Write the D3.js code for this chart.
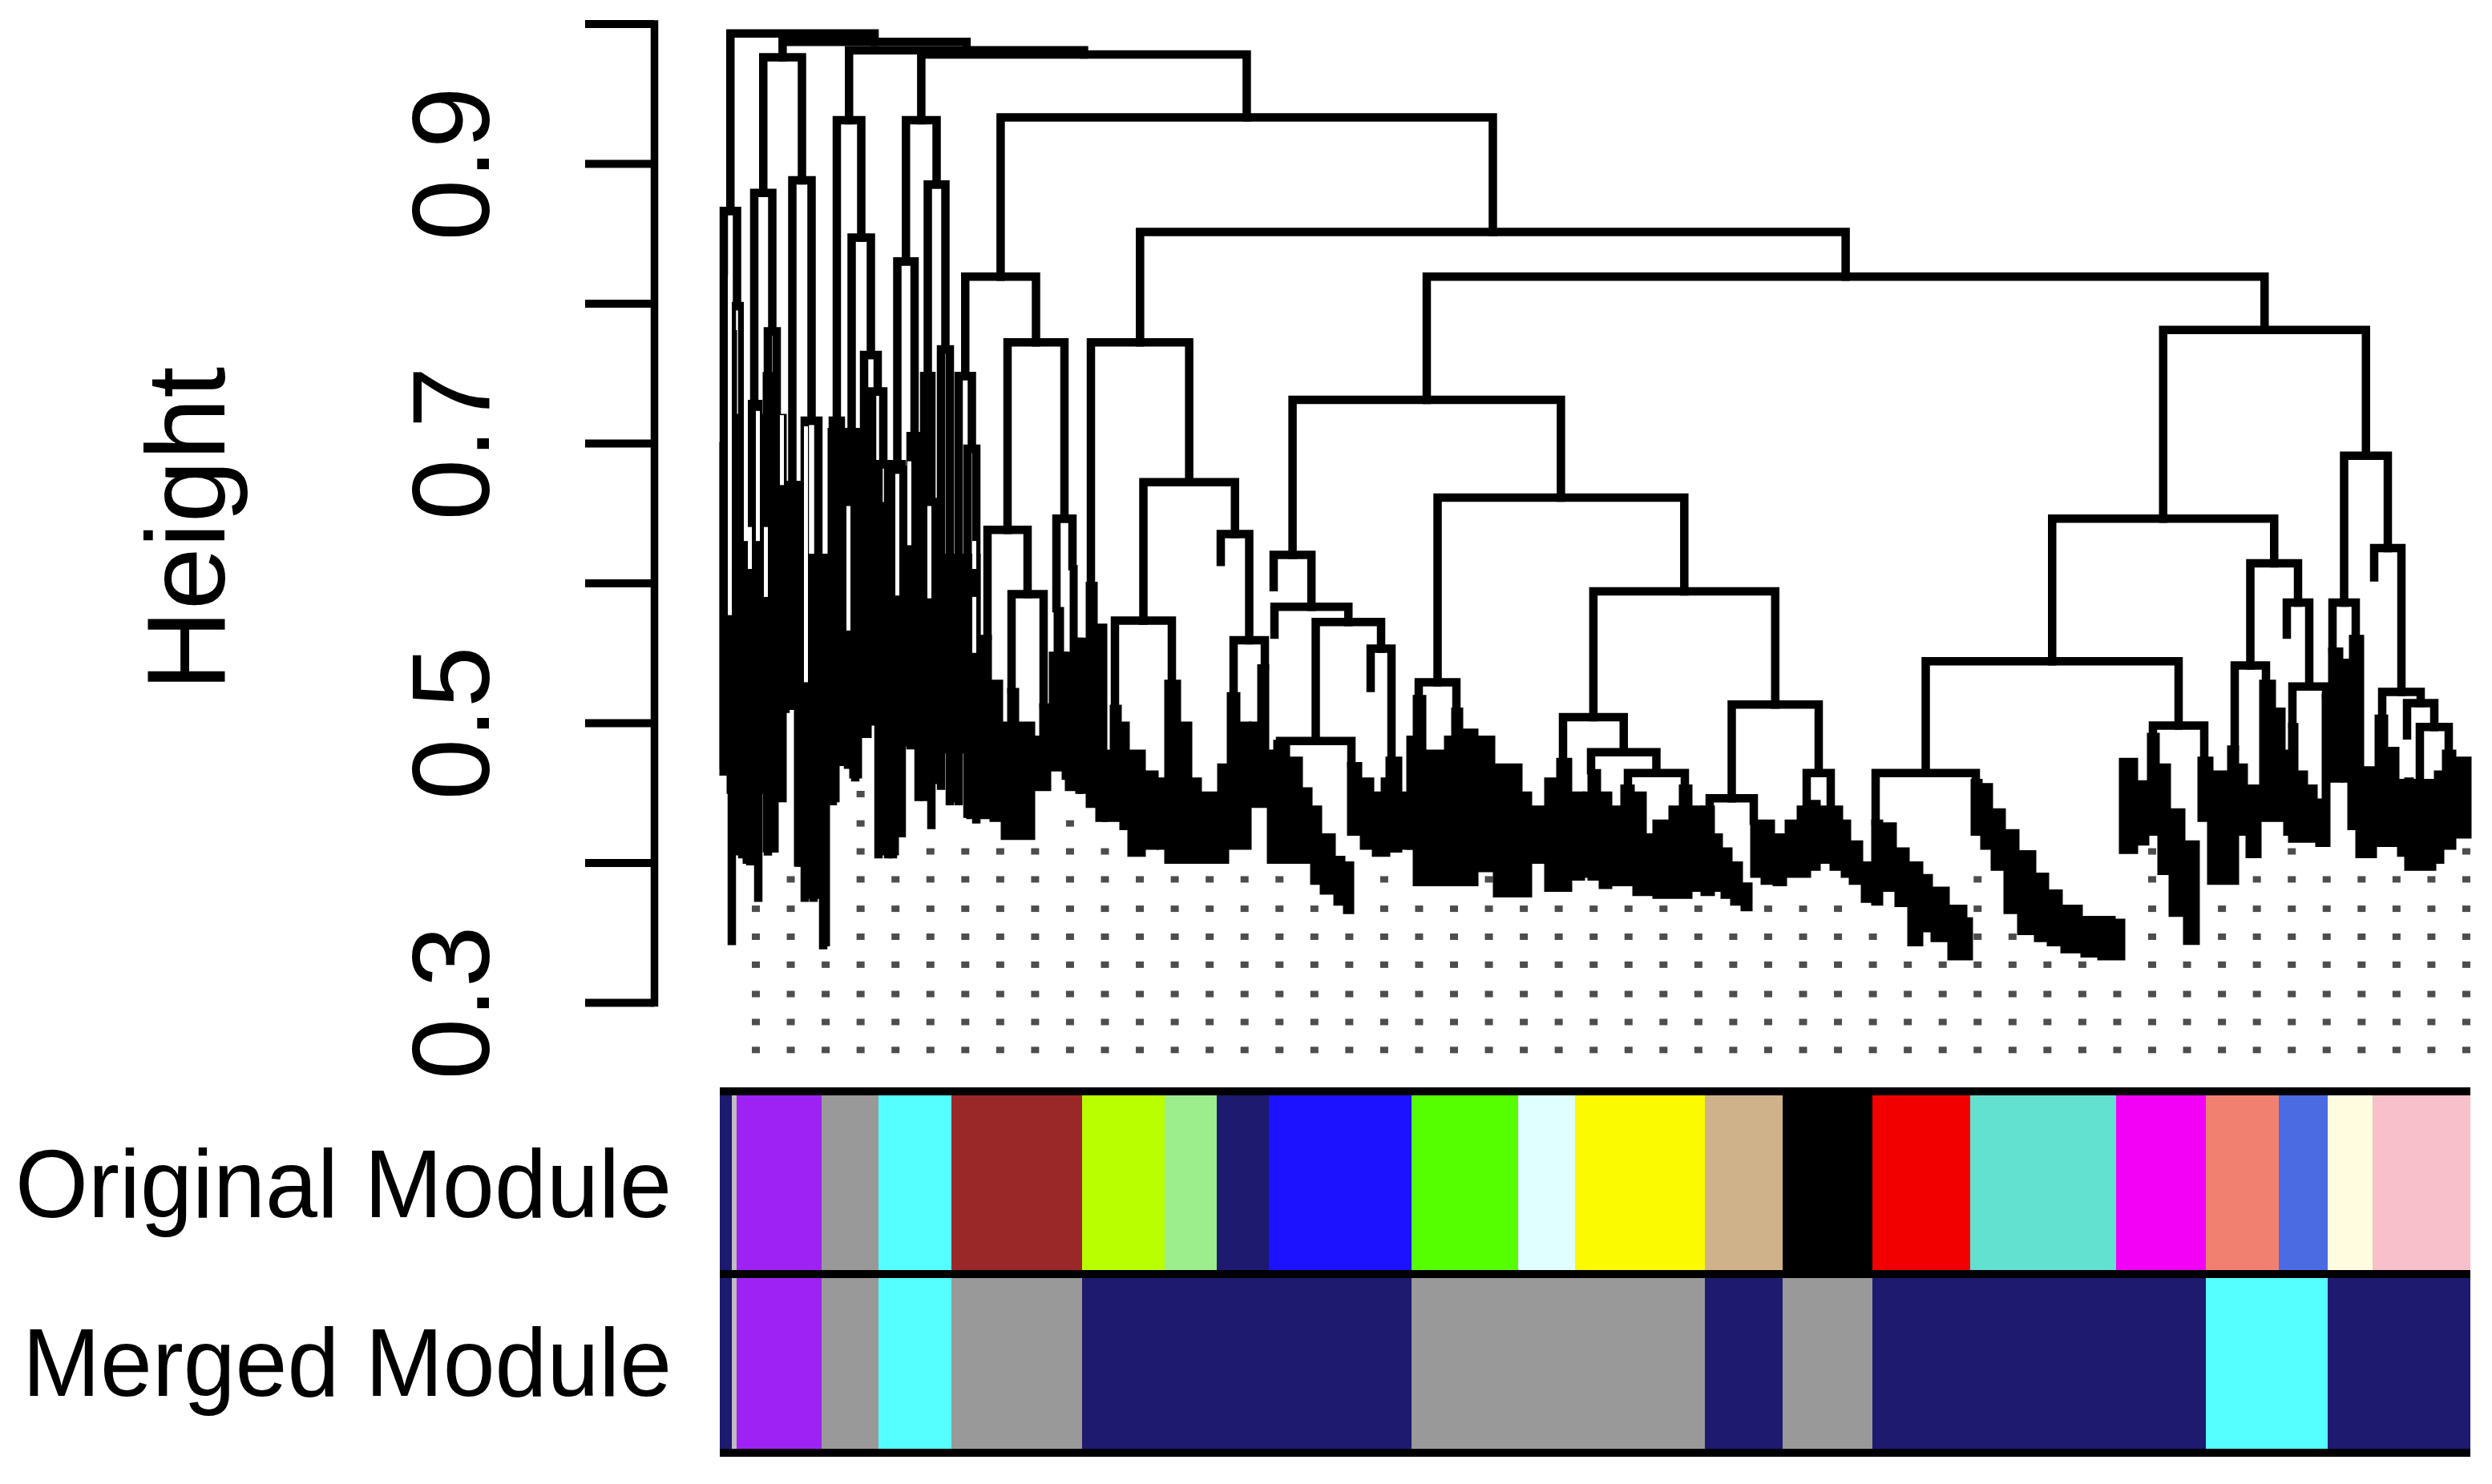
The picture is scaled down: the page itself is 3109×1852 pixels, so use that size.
<!DOCTYPE html>
<meta charset="utf-8">
<style>

body {
  margin: 0;
  background: #fff;
}

text {
  font-family: "Liberation Sans", Arial, sans-serif;
  fill: #000;
}

</style>
<svg width="3109" height="1852"></svg>
<script src="https://d3js.org/d3.v7.min.js"></script>
<script>

// merges of the gene tree: [id, height, left child, right child]
var merges = [
  ["M0", 0.993, "L0", "M1"], ["M1", 0.987, "L1", "M2"], ["M2", 0.981, "L2", "M3"], ["M3", 0.978, "L3", "NA"],
  ["L0", 0.866, "t5", "L0b"], ["L0b", 0.798, "t15", "t28"],
  ["L1", 0.976, "L1a", "L1b"], ["L1a", 0.879, "L1c", "L1d"], ["L1c", 0.728, "t38", "t48"], ["L1d", 0.780, "t60", "t71"],
  ["L1b", 0.888, "L1e", "L1f"], ["L1e", 0.670, "t82", "t99"], ["L1f", 0.716, "t106", "L1g"], ["L1g", 0.616, "t117", "t129"],
  ["L2", 0.931, "L2a", "L2b"], ["L2a", 0.716, "t141", "t151"], ["L2b", 0.847, "L2c", "L2d"], ["L2c", 0.655, "t160", "t169"],
  ["L2d", 0.763, "t180", "L2e"], ["L2e", 0.737, "t190", "L2f"], ["L2f", 0.685, "t198", "t210"],
  ["L3", 0.931, "L3a", "L3b"], ["L3a", 0.830, "L3c", "L3d"], ["L3c", 0.685, "t216", "t227"], ["L3d", 0.705, "t238", "t248"],
  ["L3b", 0.885, "L3e", "L3f"], ["L3e", 0.748, "t255", "t264"], ["L3f", 0.767, "t276", "t287"],
  ["NA", 0.933, "NB", "NC"], ["NB", 0.819, "B1", "B2"], ["B1", 0.748, "t298", "B1b"], ["B1b", 0.696, "t309", "t320"],
  ["B2", 0.772, "B2a", "B2b"], ["B2a", 0.638, "CB1", "B2c"], ["B2c", 0.592, "CB2", "CB3"], ["B2b", 0.646, "CB4", "CB5"],
  ["NC", 0.851, "ND", "NE"], ["ND", 0.772, "CD1", "NDr"], ["NDr", 0.672, "NDa", "NDb"], ["NDa", 0.573, "CDa", "CDb"],
  ["NDb", 0.635, "t625", "NDc"], ["NDc", 0.559, "CDc", "CDd"],
  ["NE", 0.819, "NF", "NJ"], ["NF", 0.731, "NFa", "NG"], ["NFa", 0.620, "t691", "NFb"], ["NFb", 0.583, "t692", "NFc"],
  ["NFc", 0.572, "NFd", "NFe"], ["NFd", 0.487, "CFa", "CFb"], ["NFe", 0.553, "t812", "CFc"],
  ["NG", 0.661, "NGa", "NH"], ["NGa", 0.529, "CGa", "CGb"], ["NH", 0.594, "NI", "NHr"], ["NI", 0.504, "CIa", "NIr"],
  ["NIr", 0.479, "CIb", "NIs"], ["NIs", 0.464, "CIc", "CId"], ["NHr", 0.513, "NHa", "NHb"], ["NHa", 0.446, "CHa", "CHb"],
  ["NHb", 0.464, "CHc", "CHd"],
  ["NJ", 0.781, "NK", "NJr"], ["NK", 0.646, "NL", "NKr"], ["NL", 0.544, "NLa", "NLb"], ["NLa", 0.464, "CLa", "CLb"],
  ["NLb", 0.498, "CLc", "CLd"], ["NKr", 0.614, "NKa", "NKb"], ["NKa", 0.541, "CKa", "CKb"], ["NKb", 0.586, "t1955", "NKc"],
  ["NKc", 0.526, "CKc", "CKd"], ["NJr", 0.691, "NJa", "NJb"], ["NJa", 0.586, "CJa", "CJb"], ["NJb", 0.625, "t2064", "NJe"],
  ["NJe", 0.522, "CJc", "NJf"], ["NJf", 0.514, "t2105", "NJg"], ["NJg", 0.497, "CJd1", "CJd2"]
];

// single hanging leaves: [id, leaf position, lowest height]
var tips = [
  ["t5", 5, 0.470], ["t15", 15, 0.344], ["t28", 28, 0.406], ["t38", 38, 0.401], ["t48", 48, 0.375],
  ["t60", 60, 0.408], ["t71", 71, 0.484], ["t82", 82, 0.510], ["t99", 99, 0.400], ["t106", 106, 0.375],
  ["t117", 117, 0.375], ["t129", 129, 0.341], ["t141", 141, 0.444], ["t151", 151, 0.472], ["t160", 160, 0.470],
  ["t169", 169, 0.461], ["t180", 180, 0.553], ["t190", 190, 0.501], ["t198", 198, 0.406], ["t210", 210, 0.406],
  ["t216", 216, 0.406], ["t227", 227, 0.421], ["t238", 238, 0.484], ["t248", 248, 0.447], ["t255", 255, 0.447],
  ["t264", 264, 0.427], ["t276", 276, 0.455], ["t287", 287, 0.444], ["t298", 298, 0.444], ["t309", 309, 0.435],
  ["t320", 320, 0.431], ["t625", 625, 0.615], ["t691", 691, 0.597], ["t692", 692, 0.563], ["t812", 812, 0.525],
  ["t1955", 1955, 0.563], ["t2064", 2064, 0.604], ["t2105", 2105, 0.491]
];

// dense leaf clumps: [id, attach position, [[position, top height, bottom height], ..., [end position]]]
// LM is the packed lower part of the tall left-hand branches
var clumps = [
  ["LM", null, [[1, 0.700, 0.463], [10, 0.780, 0.450], [20, 0.720, 0.406], [30, 0.720, 0.400], [40, 0.720, 0.463],
                [45, 0.720, 0.450], [55, 0.750, 0.408], [72, 0.720, 0.444], [82, 0.670, 0.510], [94, 0.670, 0.398],
                [106, 0.620, 0.375], [126, 0.620, 0.341], [136, 0.710, 0.444], [148, 0.710, 0.472], [163, 0.710, 0.461],
                [176, 0.710, 0.490], [188, 0.657, 0.510], [202, 0.657, 0.406], [217, 0.683, 0.406], [222, 0.683, 0.484],
                [247, 0.660, 0.447], [257, 0.660, 0.457], [272, 0.620, 0.479], [289, 0.620, 0.444], [299, 0.620, 0.479],
                [309, 0.620, 0.432], [324]]],
  ["CB1", 334, [[325, 0.562, 0.432], [338, 0.530, 0.430], [352]]],
  ["CB2", 364, [[352, 0.500, 0.417], [360, 0.524, 0.417], [372, 0.500, 0.417], [392]]],
  ["CB3", 404, [[392, 0.490, 0.452], [400, 0.513, 0.452], [412]]],
  ["CB4", 420, [[412, 0.550, 0.466], [418, 0.582, 0.466], [428, 0.550, 0.460], [432]]],
  ["CB5", 440, [[432, 0.550, 0.452], [438, 0.612, 0.452], [445, 0.560, 0.450], [452]]],
  ["CD1", 463, [[448, 0.560, 0.450], [458, 0.600, 0.440], [470, 0.570, 0.430], [482]]],
  ["CDa", 493, [[478, 0.480, 0.430], [488, 0.512, 0.430], [500, 0.500, 0.424], [510, 0.480, 0.405], [530, 0.465, 0.410], [546]]],
  ["CDb", 564, [[546, 0.460, 0.410], [556, 0.530, 0.400], [574, 0.500, 0.400], [588, 0.460, 0.400], [600]]],
  ["CDc", 641, [[600, 0.450, 0.400], [622, 0.470, 0.400], [634, 0.521, 0.410], [648, 0.500, 0.410], [662]]],
  ["CDd", 680, [[662, 0.500, 0.440], [672, 0.541, 0.440], [684, 0.480, 0.400], [692]]],
  ["CFa", 699, [[692, 0.487, 0.400], [710, 0.475, 0.400], [726, 0.453, 0.400], [738, 0.440, 0.385], [750, 0.420, 0.378],
                [767, 0.404, 0.370], [779, 0.400, 0.364], [790]]],
  ["CFb", 788, [[784, 0.471, 0.420], [800, 0.460, 0.410], [815, 0.450, 0.405], [835, 0.440, 0.408], [850]]],
  ["CFc", 838, [[826, 0.460, 0.410], [832, 0.475, 0.410], [850, 0.450, 0.410], [862]]],
  ["CGa", 872, [[858, 0.490, 0.410], [866, 0.519, 0.384], [880, 0.480, 0.384], [905]]],
  ["CGb", 919, [[905, 0.490, 0.384], [914, 0.510, 0.384], [926, 0.495, 0.384], [945, 0.490, 0.394], [966, 0.470, 0.376],
                [1000, 0.450, 0.376], [1012]]],
  ["CIa", 1052, [[1012, 0.440, 0.400], [1030, 0.460, 0.380], [1045, 0.474, 0.380], [1062, 0.450, 0.388], [1078]]],
  ["CIb", 1087, [[1078, 0.450, 0.390], [1084, 0.466, 0.388], [1098, 0.450, 0.382], [1112]]],
  ["CIc", 1133, [[1112, 0.440, 0.384], [1125, 0.455, 0.384], [1140, 0.450, 0.377], [1155, 0.420, 0.377], [1165]]],
  ["CId", 1204, [[1165, 0.430, 0.375], [1185, 0.440, 0.375], [1198, 0.455, 0.375], [1212, 0.440, 0.380], [1225]]],
  ["CHa", 1235, [[1225, 0.440, 0.377], [1240, 0.420, 0.380], [1250, 0.410, 0.375], [1262, 0.400, 0.370], [1275, 0.385, 0.366], [1287]]],
  ["CHb", 1290, [[1287, 0.430, 0.390], [1300, 0.430, 0.385], [1315, 0.420, 0.384], [1330]]],
  ["CHc", 1356, [[1330, 0.430, 0.390], [1345, 0.440, 0.390], [1360, 0.444, 0.395], [1372]]],
  ["CHd", 1386, [[1372, 0.440, 0.400], [1386, 0.440, 0.395], [1400, 0.430, 0.390], [1410, 0.415, 0.385], [1425, 0.400, 0.372], [1440]]],
  ["CLa", 1442, [[1438, 0.430, 0.370], [1450, 0.428, 0.380], [1467, 0.410, 0.369], [1483, 0.400, 0.341], [1500, 0.391, 0.351],
                 [1512, 0.382, 0.344], [1533, 0.369, 0.331], [1555, 0.360, 0.331], [1562]]],
  ["CLb", 1567, [[1562, 0.459, 0.420], [1574, 0.456, 0.410], [1587, 0.438, 0.395], [1603, 0.423, 0.364], [1620, 0.408, 0.349],
                 [1641, 0.392, 0.344], [1657, 0.380, 0.341], [1674, 0.369, 0.336], [1699, 0.361, 0.333], [1720, 0.361, 0.331],
                 [1740, 0.359, 0.331], [1752]]],
  ["CLc", 1788, [[1747, 0.474, 0.407], [1768, 0.458, 0.413], [1782, 0.492, 0.420], [1795, 0.470, 0.392], [1809, 0.438, 0.362],
                 [1827, 0.415, 0.342], [1845]]],
  ["CLd", 1852, [[1845, 0.475, 0.430], [1862]]],
  ["CKa", 1890, [[1857, 0.465, 0.385], [1882, 0.483, 0.385], [1894, 0.470, 0.420], [1905, 0.455, 0.404], [1922]]],
  ["CKb", 1929, [[1922, 0.530, 0.430], [1940, 0.510, 0.430], [1952]]],
  ["CKc", 1962, [[1952, 0.480, 0.420], [1958, 0.499, 0.415], [1968, 0.465, 0.415], [1980, 0.455, 0.415], [1992, 0.445, 0.412], [2000]]],
  ["CKd", 2004, [[2000, 0.520, 0.412], [2008]]],
  ["CJa", 2012, [[2008, 0.553, 0.458], [2024]]],
  ["CJb", 2041, [[2024, 0.545, 0.458], [2034, 0.562, 0.458], [2050]]],
  ["CJc", 2074, [[2032, 0.468, 0.424], [2042, 0.468, 0.404], [2066, 0.505, 0.412], [2080, 0.482, 0.412], [2094, 0.459, 0.405], [2103]]],
  ["CJd1", 2121, [[2103, 0.460, 0.395], [2112, 0.459, 0.395], [2140]]],
  ["CJd2", 2157, [[2140, 0.465, 0.400], [2150, 0.480, 0.410], [2165, 0.475, 0.418], [2184]]]
];

// narrow white gaps between packed leaves: [from position, to position, top height, bottom height]
var gaps = [
  [10, 15, 0.820, 0.577], [30, 35, 0.820, 0.630], [35, 40, 0.640, 0.610], [45, 50, 0.723, 0.630],
  [55, 60, 0.640, 0.590], [75, 80, 0.720, 0.670], [105, 110, 0.712, 0.529], [158, 163, 0.655, 0.566],
  [219, 224, 0.678, 0.591], [234, 239, 0.687, 0.627], [259, 264, 0.655, 0.589], [315, 320, 0.630, 0.610],
  [315, 320, 0.590, 0.550]
];

// module colour rows, in leaf order, with the number of leaves in each run
var originalModules = ["midnightblue", "lightgrey", "purple", "grey", "cyan", "brown", "greenyellow", "lightgreen",
  "midnightblue", "blue", "green", "lightcyan", "yellow", "tan", "black", "red", "turquoise", "magenta", "salmon",
  "royalblue", "lightyellow", "pink"];
var originalSizes = [15, 6, 106, 71, 91, 163, 103, 65, 65, 178, 133, 71, 162, 97, 112, 122, 182, 112, 91, 61, 56, 122];
var mergedModules = ["midnightblue", "lightgrey", "purple", "grey", "cyan", "grey", "midnightblue", "grey",
  "midnightblue", "grey", "midnightblue", "cyan", "midnightblue"];
var mergedSizes = [15, 6, 106, 71, 91, 163, 411, 366, 97, 112, 416, 152, 178];
var rowLabels = ["Original Module", "Merged Module"];

var heightTicks = [0.3, 0.4, 0.5, 0.6, 0.7, 0.8, 0.9, 1.0];
var labelledTicks = [0.3, 0.5, 0.7, 0.9];
// heights of the faint leaf-label dot rows under the tree
var dotHeights = [0.266, 0.286, 0.306, 0.327, 0.347, 0.367, 0.388, 0.408, 0.428, 0.449, 0.469, 0.489, 0.510];

var moduleColour = {
  midnightblue: "#1d1a70", lightgrey: "#bdbdbd", purple: "#9d22f3", grey: "#999999", cyan: "#55ffff",
  brown: "#9b2828", greenyellow: "#b9ff00", lightgreen: "#9ced8c", blue: "#1c12ff", green: "#55ff00",
  lightcyan: "#e0ffff", yellow: "#fcfa00", tan: "#d0b28a", black: "#000000", red: "#f20000",
  turquoise: "#62e0d0", magenta: "#f300f6", salmon: "#f28070", royalblue: "#4a6be2",
  lightyellow: "#fffce0", pink: "#f8c0ca"
};

var svg = d3.select("svg"),
    nLeaves = 2184,
    lineW = 10.5;

var x = d3.scaleLinear().domain([0, nLeaves]).range([898, 3082]);
var y = d3.scaleLinear().domain([0.3, 1.0]).range([1251, 29.5]);

// lookup of every tree element
var node = {};
merges.forEach(function(m) { node[m[0]] = {type: "merge", h: m[1], left: m[2], right: m[3]}; });
tips.forEach(function(t) { node[t[0]] = {type: "tip", pos: t[1], bottom: t[2]}; });
clumps.forEach(function(c) {
  var pts = c[2].map(function(p, i) {
    return p.length > 1 ? p : [p[0], c[2][i - 1][1], c[2][i - 1][2]];
  });
  node[c[0]] = {type: "clump", pos: c[1], pts: pts};
});

function pos(id) {
  var n = node[id];
  if (n.type !== "merge") return n.pos;
  if (n.p == null) n.p = (pos(n.left) + pos(n.right)) / 2;
  return n.p;
}

function topOf(id) {
  var n = node[id];
  if (n.type === "merge") return n.h;
  if (n.type === "tip") return n.bottom;
  var t = n.pts[0][1];
  n.pts.forEach(function(p) { if (p[0] <= n.pos) t = p[1]; });
  return t;
}

// dotted leaf rows, only below the lowest ink of each column
function lowestInk(X) {
  var low = -Infinity;
  tips.forEach(function(t) {
    if (Math.abs(x(t[1]) - X) <= 10) low = Math.max(low, y(t[2]) + lineW / 2);
  });
  clumps.forEach(function(c) {
    var pts = node[c[0]].pts;
    for (var i = 0; i < pts.length - 1; i++) {
      if (x(pts[i + 1][0]) >= X - 6 && x(pts[i][0]) <= X + 6) low = Math.max(low, y(pts[i][2]));
    }
  });
  return low;
}

var dots = [];
d3.range(45, nLeaves, 43.55).forEach(function(p) {
  var low = lowestInk(x(p));
  dotHeights.forEach(function(h) {
    if (y(h) - 4 > low + 4) dots.push([p, h]);
  });
});

svg.append("g").selectAll("rect").data(dots).join("rect")
    .attr("x", function(d) { return x(d[0]) - 5; })
    .attr("y", function(d) { return y(d[1]) - 4; })
    .attr("width", 10)
    .attr("height", 8)
    .attr("fill", "#4d4d4d");

// dendrogram
var tree = svg.append("g");

var area = d3.area()
    .x(function(d) { return x(d[0]); })
    .y0(function(d) { return y(d[2]); })
    .y1(function(d) { return y(d[1]); })
    .curve(d3.curveStepAfter);

tree.selectAll("path.clump").data(clumps).join("path")
    .attr("class", "clump")
    .attr("d", function(c) { return area(node[c[0]].pts); })
    .attr("fill", "#000")
    .attr("stroke", "#000")
    .attr("stroke-width", 3);

tree.selectAll("path.merge").data(merges).join("path")
    .attr("class", "merge")
    .attr("d", function(m) {
      var a = m[2], b = m[3];
      return "M" + x(pos(a)) + "," + y(topOf(a)) + "V" + y(m[1]) + "H" + x(pos(b)) + "V" + y(topOf(b));
    })
    .attr("fill", "none")
    .attr("stroke", "#000")
    .attr("stroke-width", lineW)
    .attr("stroke-linecap", "square")
    .attr("stroke-linejoin", "miter");

tree.selectAll("rect.gap").data(gaps).join("rect")
    .attr("class", "gap")
    .attr("x", function(d) { return x(d[0]); })
    .attr("width", function(d) { return x(d[1]) - x(d[0]); })
    .attr("y", function(d) { return y(d[2]); })
    .attr("height", function(d) { return y(d[3]) - y(d[2]); })
    .attr("fill", "#fff");

// height axis
var axis = d3.axisLeft(y)
    .tickValues(heightTicks)
    .tickSize(86)
    .tickSizeOuter(0)
    .tickFormat(function(d) { return labelledTicks.indexOf(d) >= 0 ? d3.format(".1f")(d) : ""; });

var ax = svg.append("g")
    .attr("transform", "translate(816,0)")
    .call(axis);

ax.select(".domain")
    .attr("stroke-width", 9.5)
    .attr("stroke-linecap", "square");
ax.selectAll(".tick line")
    .attr("stroke-width", 10);
ax.selectAll(".tick text")
    .attr("transform", "rotate(-90)")
    .attr("x", 0)
    .attr("y", -206)
    .attr("dy", 0)
    .attr("text-anchor", "middle")
    .style("font-size", "138px")
    .style("font-family", "'Liberation Sans', Arial, sans-serif")
    .attr("fill", "#000");

svg.append("text")
    .attr("transform", "translate(280,660) rotate(-90)")
    .attr("text-anchor", "middle")
    .style("font-size", "140px")
    .text("Height");

// module colour rows
function colourRow(names, sizes, y0, y1) {
  var start = 0;
  var runs = names.map(function(n, i) {
    var r = {name: n, a: start, b: start + sizes[i]};
    start += sizes[i];
    return r;
  });
  svg.append("g").selectAll("rect").data(runs).join("rect")
      .attr("x", function(d) { return x(d.a); })
      .attr("width", function(d) { return x(d.b) - x(d.a); })
      .attr("y", y0)
      .attr("height", y1 - y0)
      .attr("fill", function(d) { return moduleColour[d.name]; });
}

colourRow(originalModules, originalSizes, 1367, 1585);
colourRow(mergedModules, mergedSizes, 1595, 1808);

svg.append("g").selectAll("rect").data([1357, 1585, 1808]).join("rect")
    .attr("x", x(0))
    .attr("width", x(nLeaves) - x(0))
    .attr("y", function(d) { return d; })
    .attr("height", 10)
    .attr("fill", "#000");

svg.append("g").selectAll("text").data(rowLabels).join("text")
    .attr("x", 838)
    .attr("y", function(d, i) { return i ? 1742 : 1519; })
    .attr("text-anchor", "end")
    .attr("textLength", function(d, i) { return i ? 810 : 819; })
    .attr("lengthAdjust", "spacingAndGlyphs")
    .style("font-size", "120px")
    .text(function(d) { return d; });

</script>
